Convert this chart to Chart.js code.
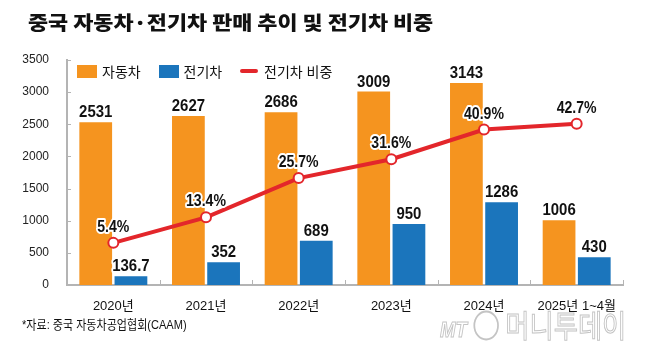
<!DOCTYPE html>
<html>
<head>
<meta charset="utf-8">
<script src="https://cdn.jsdelivr.net/npm/chart.js@4/dist/chart.umd.min.js"></script>
<style>
  html, body { margin: 0; padding: 0; background: #fff; }
  #wrap { position: relative; width: 654px; height: 348px; overflow: hidden; font-family: "Liberation Sans", "Noto Sans CJK KR", sans-serif; }
  #c { position: absolute; left: 0; top: 0; }
  .title { position: absolute; left: 28px; top: 8px; font: 900 19px "Noto Sans CJK KR", sans-serif; color: #111; white-space: nowrap; transform: scaleX(1.15); transform-origin: left top; }
  .legend { position: absolute; left: 77px; top: 61px; font: 14px "Liberation Sans", "Noto Sans CJK KR", sans-serif; color: #111; white-space: nowrap; }
  .legend span { display: inline-block; vertical-align: middle; }
  .box { width: 20px; height: 13px; margin-right: 5px; }
  .ln { width: 18px; height: 4px; background: #e3262b; border-radius: 2px; margin-right: 6px; }
  .item { margin-right: 14px; }
  .source { position: absolute; left: 22px; top: 314px; font: 13px "Liberation Sans", "Noto Sans CJK KR", sans-serif; color: #111; white-space: nowrap; transform: scaleX(0.85); transform-origin: left top; }
  .mark { position: absolute; left: 440px; top: 301px; font: 31px "Noto Sans CJK KR", sans-serif; color: transparent; -webkit-text-stroke: 1px #c4c4c4; white-space: nowrap; transform: scaleX(0.85); transform-origin: left top; }
  .mark i { font: italic bold 22px "Liberation Sans", sans-serif; }
</style>
</head>
<body>
<div id="wrap">
  <canvas id="c" width="654" height="348"></canvas>
  <div class="title">중국 자동차·전기차 판매 추이 및 전기차 비중</div>
  <div class="legend">
    <span class="box" style="background:#f5941f"></span><span class="item">자동차</span>
    <span class="box" style="background:#1b75bc"></span><span class="item">전기차</span>
    <span class="ln"></span><span>전기차 비중</span>
  </div>
  <div class="source">*자료: 중국 자동차공업협회(CAAM)</div>
  <div class="mark"><i>MT</i> ◯ 머니투데이</div>
</div>
<script>
const categories = ['2020년', '2021년', '2022년', '2023년', '2024년', '2025년 1~4월'];
const carSales = [2531, 2627, 2686, 3009, 3143, 1006];
const evSales = [136.7, 352, 689, 950, 1286, 430];
const evShare = [5.4, 13.4, 25.7, 31.6, 40.9, 42.7];
const yMin = 0, yMax = 3500, yStep = 500;

const ORANGE = '#f5941f';
const BLUE = '#1b75bc';
const RED = '#e3262b';
const AXIS = '#b4b4b4';

// value labels drawn over bars and points (slightly condensed)
const valueLabels = {
    id: 'valueLabels',
    afterDatasetsDraw(chart) {
        const ctx = chart.ctx;
        chart.data.datasets.forEach((ds, di) => {
            const meta = chart.getDatasetMeta(di);
            meta.data.forEach((el, i) => {
                const v = ds.data[i];
                let text, y;
                ctx.save();
                if (ds.type === 'line') {
                    text = v.toFixed(1) + '%';
                    y = el.y - 11;
                    ctx.font = 'bold 16px "Liberation Sans", sans-serif';
                } else {
                    text = String(v);
                    y = el.y - 5;
                    ctx.font = 'bold 17px "Liberation Sans", sans-serif';
                }
                ctx.translate(el.x, y);
                ctx.scale(0.88, 1);
                ctx.textAlign = 'center';
                ctx.textBaseline = 'alphabetic';
                ctx.lineJoin = 'round';
                ctx.strokeStyle = '#fff';
                ctx.lineWidth = 4;
                ctx.strokeText(text, 0, 0);
                ctx.fillStyle = '#111';
                ctx.fillText(text, 0, 0);
                ctx.restore();
            });
        });
    }
};

// small inward tick marks on both axes
const innerTicks = {
    id: 'innerTicks',
    afterDraw(chart) {
        const ctx = chart.ctx;
        const x = chart.scales.x, y = chart.scales.y;
        ctx.save();
        ctx.strokeStyle = AXIS;
        ctx.lineWidth = 1;
        ctx.beginPath();
        y.ticks.forEach((t, i) => {
            const py = Math.round(y.getPixelForTick(i)) + 0.5;
            ctx.moveTo(x.left, py);
            ctx.lineTo(x.left + 4, py);
        });
        const half = (x.getPixelForValue(1) - x.getPixelForValue(0)) / 2;
        for (let i = 0; i < categories.length; i++) {
            const px = Math.round(x.getPixelForValue(i) + half) + 0.5;
            ctx.moveTo(px, y.bottom);
            ctx.lineTo(px, y.bottom - 5);
        }
        ctx.stroke();
        ctx.restore();
    }
};

new Chart(document.getElementById('c'), {
    data: {
        labels: categories,
        datasets: [
            {
                type: 'line',
                label: '전기차 비중',
                data: evShare,
                yAxisID: 'y1',
                borderColor: RED,
                borderWidth: 4,
                pointRadius: 5,
                pointBorderWidth: 2,
                pointBackgroundColor: '#fff',
                pointBorderColor: RED,
                tension: 0,
                order: 0
            },
            {
                type: 'bar',
                label: '자동차',
                data: carSales,
                backgroundColor: ORANGE,
                categoryPercentage: 0.76,
                barPercentage: 0.93,
                order: 1
            },
            {
                type: 'bar',
                label: '전기차',
                data: evSales,
                backgroundColor: BLUE,
                categoryPercentage: 0.76,
                barPercentage: 0.93,
                order: 1
            }
        ]
    },
    options: {
        responsive: false,
        animation: false,
        devicePixelRatio: 1,
        layout: { padding: { left: 0, top: 60, right: 31, bottom: 33 } },
        plugins: {
            legend: { display: false },
            tooltip: { enabled: false }
        },
        scales: {
            x: {
                grid: { display: false },
                border: { display: true, color: AXIS, width: 2 },
                ticks: {
                    padding: 6,
                    color: '#111',
                    font: { size: 13, family: '"Liberation Sans", "Noto Sans CJK KR", sans-serif' }
                },
                afterFit: s => { s.height = 30; }
            },
            y: {
                min: yMin,
                max: yMax,
                grid: { display: false },
                border: { display: true, color: AXIS, width: 2 },
                ticks: {
                    stepSize: yStep,
                    padding: 10,
                    color: '#222',
                    font: { size: 12, family: '"Liberation Sans", sans-serif' },
                    callback: v => String(v)
                },
                afterFit: s => { s.width = 67; }
            },
            y1: {
                display: false,
                min: -7.8,
                max: 62.7
            }
        }
    },
    plugins: [valueLabels, innerTicks]
});
</script>
</body>
</html>
